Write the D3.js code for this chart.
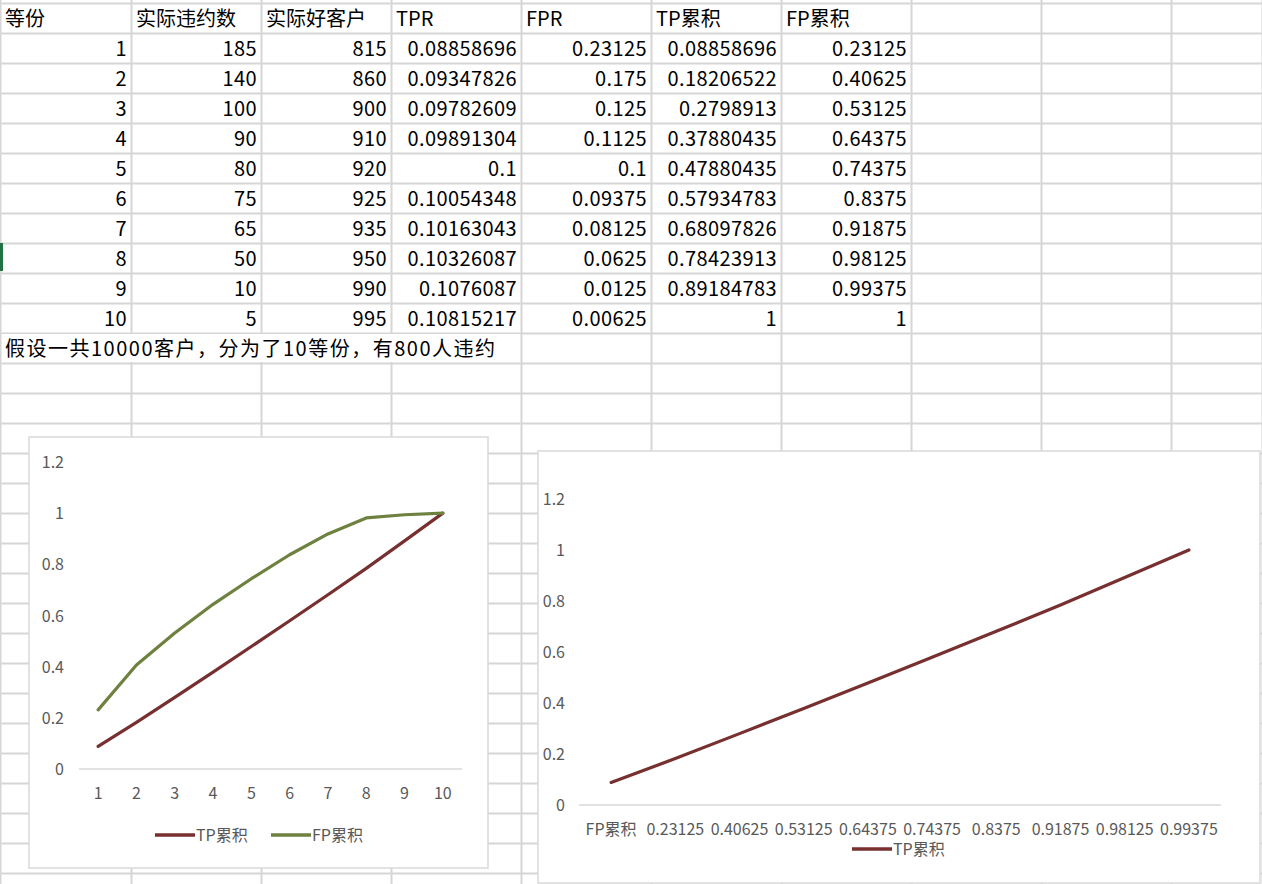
<!DOCTYPE html>
<html>
<head>
<meta charset="utf-8">
<script src="https://cdn.jsdelivr.net/npm/d3@7"></script>
<style>
  body { margin: 0; background: #fff; }
  svg { display: block; font-family: "Noto Sans CJK SC", "Noto Sans", sans-serif; }
</style>
</head>
<body>
<svg id="sheet" width="1262" height="884"></svg>
<script>
// table data
var headers = ["等份", "实际违约数", "实际好客户", "TPR", "FPR", "TP累积", "FP累积"];
var groups = [1, 2, 3, 4, 5, 6, 7, 8, 9, 10];
var defaults = [185, 140, 100, 90, 80, 75, 65, 50, 10, 5];
var goods = [815, 860, 900, 910, 920, 925, 935, 950, 990, 995];
var tpr = ["0.08858696", "0.09347826", "0.09782609", "0.09891304", "0.1", "0.10054348", "0.10163043", "0.10326087", "0.1076087", "0.10815217"];
var fpr = ["0.23125", "0.175", "0.125", "0.1125", "0.1", "0.09375", "0.08125", "0.0625", "0.0125", "0.00625"];
var tpCum = [0.08858696, 0.18206522, 0.2798913, 0.37880435, 0.47880435, 0.57934783, 0.68097826, 0.78423913, 0.89184783, 1];
var fpCum = [0.23125, 0.40625, 0.53125, 0.64375, 0.74375, 0.8375, 0.91875, 0.98125, 0.99375, 1];
var note = "假设一共10000客户，分为了10等份，有800人违约";
var yTicks = [0, 0.2, 0.4, 0.6, 0.8, 1, 1.2];
// second chart categories: header plus FP累积 column
var rocCats = ["FP累积", "0.23125", "0.40625", "0.53125", "0.64375", "0.74375", "0.8375", "0.91875", "0.98125", "0.99375"];

var tpColor = "#772f2f", fpColor = "#6e813f", gridColor = "#d6d6d6", axisText = "#595959";

var svg = d3.select("#sheet");

// spreadsheet grid
var colX = [0, 131, 261, 391, 521, 651, 781, 911, 1041, 1171, 1262];
var rowH = 30, top0 = 3;
var grid = svg.append("g");
d3.range(top0, 884, rowH).forEach(function(y) {
  grid.append("line").attr("x1", 0).attr("x2", 1262).attr("y1", y + 0.5).attr("y2", y + 0.5)
    .attr("stroke", gridColor).attr("stroke-width", 2);
});
colX.forEach(function(x) {
  grid.append("line").attr("x1", x + 0.5).attr("x2", x + 0.5).attr("y1", 0).attr("y2", 884)
    .attr("stroke", gridColor).attr("stroke-width", 2);
});
// note row overflows its cell
grid.append("rect").attr("x", 2).attr("y", top0 + 11 * rowH + 1).attr("width", 518).attr("height", rowH - 2).attr("fill", "#fff");
svg.append("rect").attr("x", 0).attr("y", 243).attr("width", 3).attr("height", 28).attr("fill", "#217346");

var cells = svg.append("g").attr("font-size", 20).attr("fill", "#000");
headers.forEach(function(h, i) {
  cells.append("text").attr("x", colX[i] + 5).attr("y", top0 + 23).text(h);
});
var cols = [groups, defaults, goods, tpr, fpr, tpCum, fpCum];
groups.forEach(function(g, r) {
  cols.forEach(function(c, i) {
    cells.append("text").attr("x", colX[i + 1] - 4).attr("y", top0 + (r + 1) * rowH + 23)
      .attr("text-anchor", "end").attr("letter-spacing", 0.4).text(c[r]);
  });
});
cells.append("text").attr("x", 5).attr("y", top0 + 11 * rowH + 23).attr("letter-spacing", 1.5).text(note);

// chart helper
function chart(box, plot, cats, series, legendY) {
  var g = svg.append("g");
  g.append("rect").attr("x", box.x).attr("y", box.y).attr("width", box.w).attr("height", box.h)
    .attr("fill", "#fff").attr("stroke", "#d9d9d9").attr("stroke-width", 1.5);

  var x = d3.scaleBand().domain(cats).range([plot.x0, plot.x1]);
  var y = d3.scaleLinear().domain([0, 1.2]).range([plot.y0, plot.y1]);

  g.append("line").attr("x1", plot.x0).attr("x2", plot.x1).attr("y1", plot.y0).attr("y2", plot.y0)
    .attr("stroke", "#d9d9d9").attr("stroke-width", 1.5);

  g.selectAll(".yt").data(yTicks).join("text")
    .attr("x", plot.x0 - plot.labelGap).attr("y", function(d) { return y(d) + 6; })
    .attr("text-anchor", "end").attr("font-size", 16).attr("fill", axisText)
    .text(function(d) { return d3.format("~g")(d); });

  g.selectAll(".xt").data(cats).join("text")
    .attr("x", function(d) { return x(d) + x.bandwidth() / 2; }).attr("y", plot.y0 + 30)
    .attr("text-anchor", "middle").attr("font-size", 16).attr("fill", axisText)
    .text(function(d) { return d; });

  var line = d3.line()
    .x(function(d, i) { return x(cats[i]) + x.bandwidth() / 2; })
    .y(function(d) { return y(d); });

  series.forEach(function(s) {
    g.append("path").attr("d", line(s.values)).attr("fill", "none")
      .attr("stroke", s.color).attr("stroke-width", 3.2).attr("stroke-linecap", "round").attr("stroke-linejoin", "round");
    g.append("line").attr("x1", s.lx).attr("x2", s.lx + 40).attr("y1", legendY).attr("y2", legendY)
      .attr("stroke", s.color).attr("stroke-width", 3.5);
    g.append("text").attr("x", s.lx + 41).attr("y", legendY + 6).attr("font-size", 16).attr("fill", axisText).text(s.name);
  });
}

chart({x: 29, y: 437, w: 459, h: 431}, {x0: 79, x1: 462, y0: 769, y1: 462, labelGap: 15},
  groups, [
    {name: "TP累积", values: tpCum, color: tpColor, lx: 155},
    {name: "FP累积", values: fpCum, color: fpColor, lx: 271}
  ], 835);

chart({x: 538, y: 451, w: 722, h: 432}, {x0: 579, x1: 1221, y0: 805, y1: 499, labelGap: 14},
  rocCats, [
    {name: "TP累积", values: tpCum, color: tpColor, lx: 852}
  ], 849);
</script>
</body>
</html>
